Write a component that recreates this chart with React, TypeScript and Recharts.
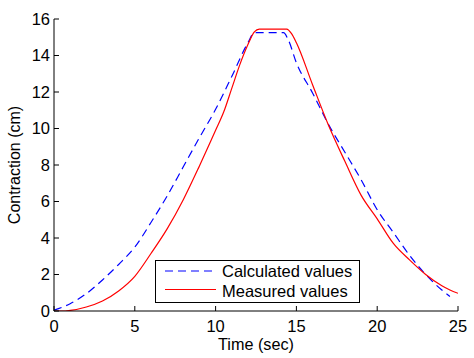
import { LineChart, Line, XAxis, YAxis, Legend } from 'recharts'

const calcTime = [0, 1, 2, 3, 4, 5, 6, 7, 8, 9, 10, 11, 12, 12.4, 14.2, 14.5, 15, 16, 17, 18, 19, 20, 21, 22, 23, 24, 24.5]
const calcValues = [0.05, 0.4, 0.95, 1.7, 2.55, 3.5, 4.85, 6.3, 7.9, 9.5, 11.05, 12.85, 14.7, 15.25, 15.25, 14.85, 13.6, 11.95, 10.2, 8.7, 7.2, 5.55, 4.3, 3.05, 2.0, 1.15, 0.8]

const measTime = [0, 0.7, 1, 2, 3, 4, 5, 6, 7, 8, 9, 10, 10.5, 11, 11.5, 12, 12.4, 12.7, 14.4, 14.7, 15, 16, 17, 18, 19, 20, 21, 22, 23, 24, 24.5, 25]
const measValues = [0, 0, 0.03, 0.22, 0.55, 1.1, 1.9, 3.15, 4.5, 6.1, 7.95, 9.9, 10.9, 12.2, 13.5, 14.6, 15.3, 15.45, 15.45, 15.2, 14.7, 12.4, 10.15, 8.2, 6.35, 5.05, 3.7, 2.8, 2.0, 1.38, 1.15, 0.97]

const xTicks = [0, 5, 10, 15, 20, 25]
const yTicks = [0, 2, 4, 6, 8, 10, 12, 14, 16]

const FONT = '"Liberation Sans", Arial, Helvetica, sans-serif'

const calcData = calcTime.map((t, i) => ({ t, v: calcValues[i] }))
const measData = measTime.map((t, i) => ({ t, v: measValues[i] }))

function LegendBox() {
  return (
    <div style={{ width: 205, height: 43, boxSizing: 'border-box', border: '1.3px solid #000', background: '#fff' }}>
      <svg width={203} height={41} style={{ display: 'block' }}>
        <line x1={9} x2={60} y1={10} y2={10} stroke="#0000ff" strokeWidth={1.2} strokeDasharray="8 5" />
        <text x={66} y={16} fontSize={16.5} fontFamily={FONT} fill="#000">Calculated values</text>
        <line x1={9} x2={60} y1={28.5} y2={28.5} stroke="#ff0000" strokeWidth={1.2} />
        <text x={66} y={35.5} fontSize={16.5} fontFamily={FONT} fill="#000">Measured values</text>
      </svg>
    </div>
  )
}

export default function App() {
  const tickStyle = { fill: '#000', fontSize: 16.5, fontFamily: FONT }
  return (
    <div style={{ position: 'absolute', left: 0, top: 0, background: '#fff' }}>
      <LineChart width={474} height={358} margin={{ top: 19, right: 16, bottom: 6, left: 0 }}>
        <XAxis
          type="number"
          dataKey="t"
          domain={[0, 25]}
          ticks={xTicks}
          height={41}
          stroke="#000"
          tickSize={-5}
          tickMargin={14}
          tick={tickStyle}
          allowDataOverflow
          label={{ value: 'Time (sec)', position: 'insideBottom', offset: 2.5, fill: '#000', fontSize: 16.2, fontFamily: FONT }}
        />
        <XAxis xAxisId="top" orientation="top" type="number" domain={[0, 25]} ticks={xTicks} height={0} stroke="#000" tickSize={-5} tick={false} />
        <YAxis
          type="number"
          domain={[0, 16]}
          ticks={yTicks}
          width={54}
          stroke="#000"
          tickSize={-5}
          tickMargin={9}
          tick={tickStyle}
          allowDataOverflow
          label={{ value: 'Contraction (cm)', angle: -90, position: 'insideLeft', offset: 14, fill: '#000', fontSize: 16, fontFamily: FONT, style: { textAnchor: 'middle' } }}
        />
        <YAxis yAxisId="right" orientation="right" type="number" domain={[0, 16]} ticks={yTicks} width={0} stroke="#000" tickSize={-5} tick={false} />
        <Line data={calcData} dataKey="v" name="Calculated values" type="monotone" stroke="#0000ff" strokeWidth={1.2} strokeDasharray="8 5" dot={false} isAnimationActive={false} />
        <Line data={measData} dataKey="v" name="Measured values" type="monotone" stroke="#ff0000" strokeWidth={1.2} dot={false} isAnimationActive={false} />
        <Legend
          layout="horizontal"
          verticalAlign="middle"
          align="center"
          content={() => <LegendBox />}
          wrapperStyle={{ position: 'absolute', left: 155, top: 260, width: 205, height: 43 }}
        />
      </LineChart>
    </div>
  )
}
